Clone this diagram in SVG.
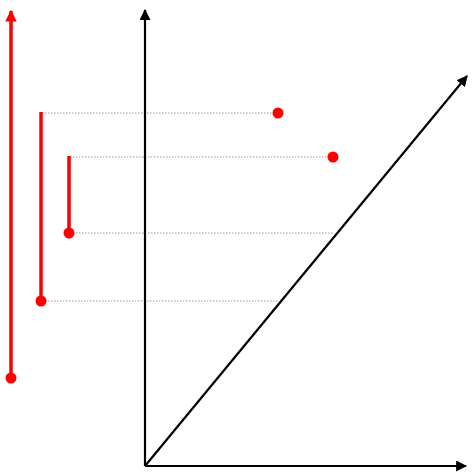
<svg xmlns="http://www.w3.org/2000/svg" width="474" height="476" viewBox="0 0 474 476">
<style>
.ax{stroke:#000;stroke-width:2.2;fill:none}
.rd{stroke:#f00;stroke-width:3.5;fill:none}
.dt{stroke:#999;stroke-width:1;stroke-dasharray:1.5,1.5;fill:none}
.dot{fill:#f00}
</style>
<defs>
<marker id="ab" viewBox="0 0 10 10" refX="9" refY="5" markerWidth="5" markerHeight="5" orient="auto" markerUnits="strokeWidth"><path d="M0,0L10,5L0,10z" fill="#000"/></marker>
<marker id="ar" viewBox="0 0 10 10" refX="9" refY="5" markerWidth="3.5" markerHeight="3.3" orient="auto" markerUnits="strokeWidth"><path d="M0,0L10,5L0,10z" fill="#f00"/></marker>
</defs>
<g id="connectors">
<line class="dt" x1="42" y1="113" x2="278" y2="113"/>
<line class="dt" x1="70" y1="157" x2="333" y2="157"/>
<line class="dt" x1="70" y1="233" x2="333" y2="233"/>
<line class="dt" x1="42" y1="301" x2="278" y2="301"/>
<line class="ax" x1="145" y1="466" x2="145" y2="10" marker-end="url(#ab)"/>
<line class="ax" x1="145" y1="466" x2="466" y2="466" marker-end="url(#ab)"/>
<line class="ax" x1="145" y1="466" x2="467" y2="76" marker-end="url(#ab)"/>
</g>
<g id="range1">
<line class="rd" x1="11" y1="378" x2="11" y2="11" marker-end="url(#ar)"/>
<circle class="dot" cx="11" cy="378" r="5.5"/>
</g>
<g id="range2">
<line class="rd" x1="41" y1="112" x2="41" y2="301"/>
<circle class="dot" cx="41" cy="301" r="5.5"/>
<circle class="dot" cx="278" cy="113" r="5.5"/>
</g>
<g id="range3">
<line class="rd" x1="69" y1="156" x2="69" y2="233"/>
<circle class="dot" cx="69" cy="233" r="5.5"/>
<circle class="dot" cx="333" cy="157" r="5.5"/>
</g>
</svg>
